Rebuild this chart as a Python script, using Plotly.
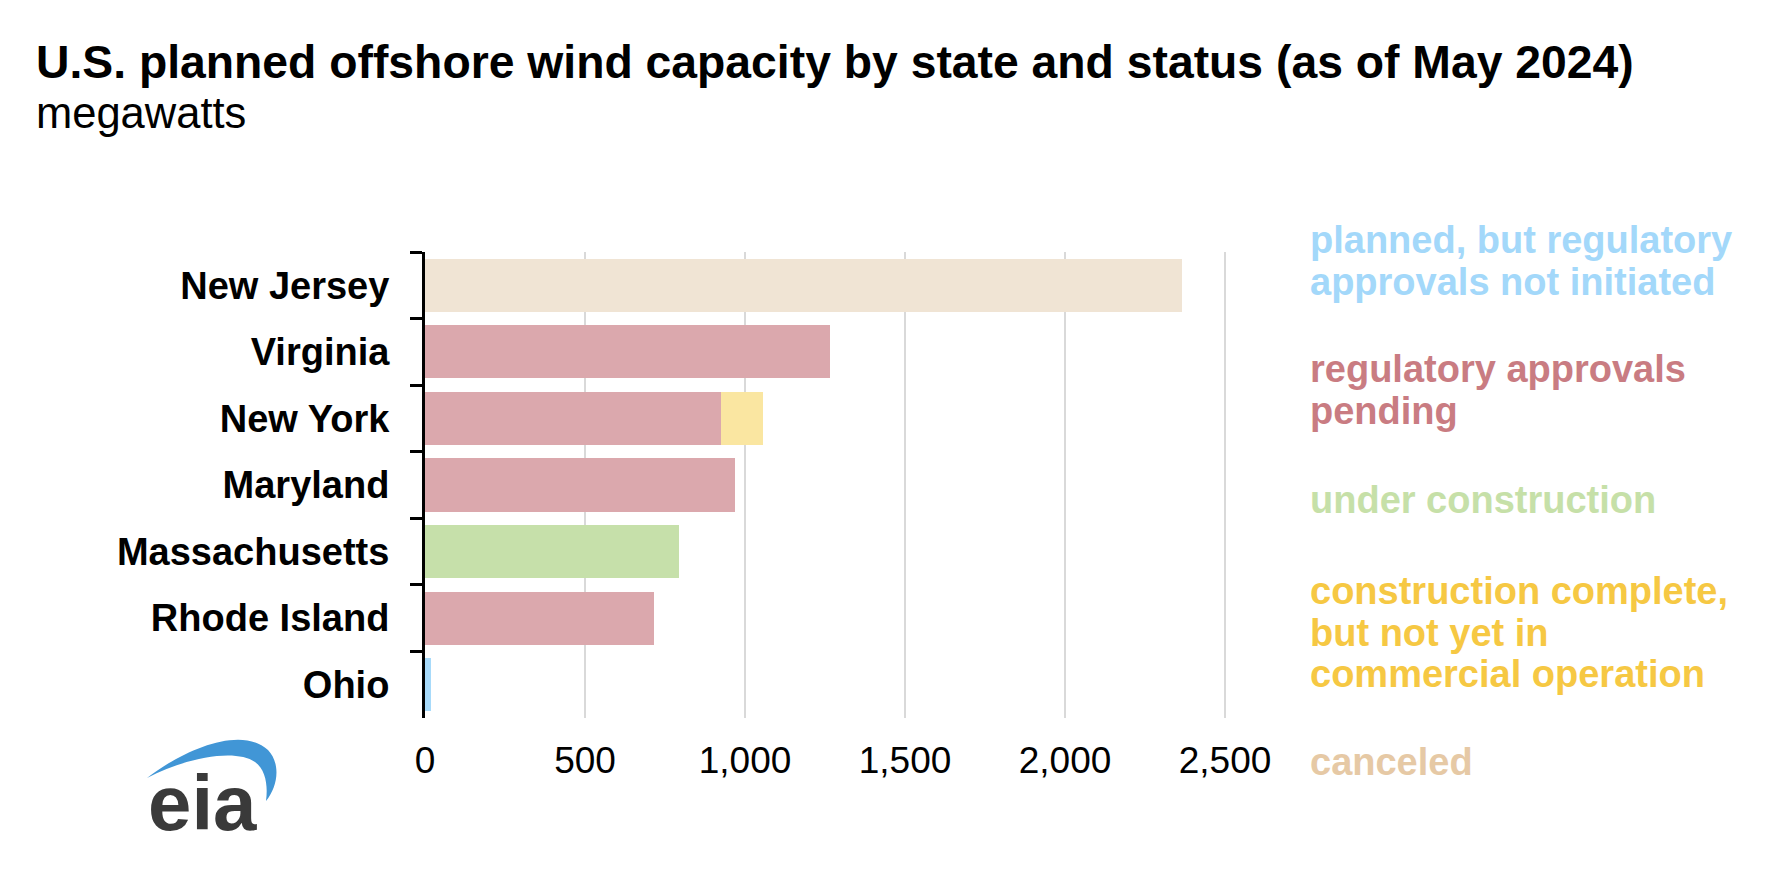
import plotly.graph_objects as go

# ---------------- data ----------------
states = ["New Jersey", "Virginia", "New York", "Maryland", "Massachusetts", "Rhode Island", "Ohio"]
status_names = [
    "planned, but regulatory approvals not initiated",
    "regulatory approvals pending",
    "under construction",
    "construction complete, but not yet in commercial operation",
    "canceled",
]
planned = [0, 0, 0, 0, 0, 0, 20]
pending = [0, 1266, 924, 969, 0, 716, 0]
under_construction = [0, 0, 0, 0, 795, 0, 0]
complete = [0, 0, 132, 0, 0, 0, 0]
canceled = [2365, 0, 0, 0, 0, 0, 0]
series_values = [planned, pending, under_construction, complete, canceled]

x_tick_vals = [0, 500, 1000, 1500, 2000, 2500]
x_tick_text = ["0", "500", "1,000", "1,500", "2,000", "2,500"]

legend_lines = [
    ["planned, but regulatory", "approvals not initiated"],
    ["regulatory approvals", "pending"],
    ["under construction"],
    ["construction complete,", "but not yet in", "commercial operation"],
    ["canceled"],
]

title_text = "U.S. planned offshore wind capacity by state and status (as of May 2024)"
subtitle_text = "megawatts"

# ---------------- style ----------------
bar_colors = ["#A7DAFA", "#DBA8AD", "#C6E0AA", "#FAE6A1", "#F0E4D4"]
text_colors = ["#A3D8FA", "#C97C82", "#C6E0A8", "#F6C843", "#E6C9A5"]
FONT = "Liberation Sans, Arial, Helvetica, sans-serif"

W, H = 1776, 880
L, R, T, B = 425, 535, 252, 162
PW, PH = W - L - R, H - T - B


def px(x):
    return (x - L) / PW


def py(y):
    return (H - B - y) / PH


fig = go.Figure()
for name, vals, col in zip(status_names, series_values, bar_colors):
    fig.add_trace(go.Bar(
        y=states, x=vals, name=name, orientation="h",
        marker=dict(color=col, line=dict(width=0)),
        showlegend=False,
    ))

annotations = []
# title + subtitle
annotations.append(dict(text="<b>" + title_text + "</b>", xref="paper", yref="paper",
                        x=px(34), y=py(62), xanchor="left", yanchor="middle", showarrow=False,
                        font=dict(family=FONT, size=46.3, color="#000000")))
annotations.append(dict(text=subtitle_text, xref="paper", yref="paper",
                        x=px(34), y=py(113), xanchor="left", yanchor="middle", showarrow=False,
                        font=dict(family=FONT, size=43.5, color="#000000")))

# legend text blocks
block_tops = [240, 369, 500, 591, 762]
line_gap = 41.5
for lines, top, col in zip(legend_lines, block_tops, text_colors):
    for i, ln in enumerate(lines):
        annotations.append(dict(text="<b>" + ln + "</b>", xref="paper", yref="paper",
                                x=px(1308), y=py(top + i * line_gap), xanchor="left", yanchor="middle",
                                showarrow=False, font=dict(family=FONT, size=38, color=col)))

# eia logo text
annotations.append(dict(text="<b>eia</b>", xref="paper", yref="paper",
                        x=px(202), y=py(803), xanchor="center", yanchor="middle", showarrow=False,
                        font=dict(family=FONT, size=78, color="#3A3A3A")))


def pt(x, y):
    return f"{px(x):.5f},{py(y):.5f}"


swoosh = ("M " + pt(147, 778) + " C " + pt(180, 752) + " " + pt(240, 724) + " " + pt(268, 750)
          + " C " + pt(281, 764) + " " + pt(278, 786) + " " + pt(266, 801)
          + " C " + pt(268, 786) + " " + pt(266, 770) + " " + pt(255, 762)
          + " C " + pt(235, 748) + " " + pt(185, 758) + " " + pt(147, 778) + " Z")

fig.update_layout(
    width=W, height=H,
    margin=dict(l=L, r=R, t=T, b=B, pad=0),
    paper_bgcolor="white", plot_bgcolor="white",
    barmode="stack", bargap=0.2,
    font=dict(family=FONT, color="#000000"),
    annotations=annotations,
    shapes=[dict(type="path", path=swoosh, xref="paper", yref="paper",
                 fillcolor="#4196D6", line=dict(width=0), layer="above")],
)
fig.update_xaxes(
    range=[0, 2550], tickvals=x_tick_vals, ticktext=x_tick_text,
    showgrid=True, gridcolor="#D9D9D9", gridwidth=2,
    zeroline=False, showline=False, ticks="",
    tickfont=dict(family=FONT, size=37, color="#000000"),
    ticklabelstandoff=17, fixedrange=True,
)
fig.update_yaxes(
    type="category", categoryorder="array", categoryarray=states, autorange="reversed",
    showgrid=False, zeroline=False,
    showline=True, linecolor="#000000", linewidth=3,
    ticks="outside", ticklen=12, tickwidth=3, tickcolor="#000000", tickson="boundaries",
    tickfont=dict(family=FONT, size=38, color="#000000", weight="bold"),
    ticklabelstandoff=25, fixedrange=True,
)

fig.write_html("out.html")
